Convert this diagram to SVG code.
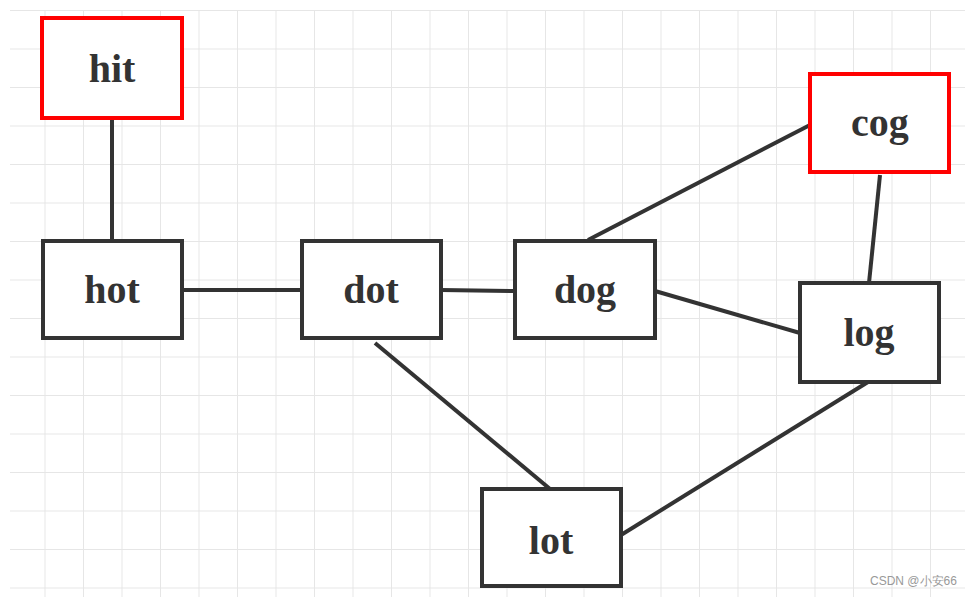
<svg xmlns="http://www.w3.org/2000/svg" width="965" height="597" viewBox="0 0 965 597">
<defs>
<pattern id="grid" x="6" y="10" width="38.5" height="38.5" patternUnits="userSpaceOnUse">
<path d="M0 0H38.5M0 0V38.5" fill="none" stroke="#e6e6e6" stroke-width="2"/>
</pattern>
</defs>
<style>
.n rect{fill:#fff;stroke:#333;stroke-width:4}
.n.r rect{stroke:#f00}
.n text{font-family:"Liberation Serif",serif;font-weight:bold;font-size:40px;fill:#333;text-anchor:middle}
#edges line{stroke:#333;stroke-width:4}
</style>
<rect width="965" height="597" fill="#fff"/>
<rect x="10" y="10" width="955" height="587" fill="url(#grid)"/>
<g id="edges">
<line x1="112" y1="118" x2="112" y2="241"/>
<line x1="182" y1="290" x2="302" y2="290"/>
<line x1="441" y1="290" x2="515" y2="291"/>
<line x1="588" y1="240" x2="810" y2="125"/>
<line x1="655" y1="291" x2="800" y2="333"/>
<line x1="880" y1="175" x2="869" y2="283"/>
<line x1="375" y1="343" x2="550" y2="489"/>
<line x1="621" y1="535" x2="868" y2="382"/>
</g>
<g id="hit" class="n r"><rect x="42" y="18" width="140" height="100"/><text x="112" y="82">hit</text></g>
<g id="hot" class="n"><rect x="43" y="241" width="139" height="97"/><text x="112" y="303">hot</text></g>
<g id="dot" class="n"><rect x="302" y="241" width="139" height="97"/><text x="371" y="303">dot</text></g>
<g id="dog" class="n"><rect x="515" y="241" width="140" height="97"/><text x="585" y="303">dog</text></g>
<g id="cog" class="n r"><rect x="810" y="74" width="139" height="98"/><text x="880" y="136">cog</text></g>
<g id="log" class="n"><rect x="800" y="283" width="139" height="99"/><text x="869" y="346">log</text></g>
<g id="lot" class="n"><rect x="482" y="489" width="139" height="97"/><text x="551" y="554">lot</text></g>
<text x="870" y="585" font-family="Liberation Sans,sans-serif" font-size="12" fill="#999">CSDN @小安66</text>
</svg>
